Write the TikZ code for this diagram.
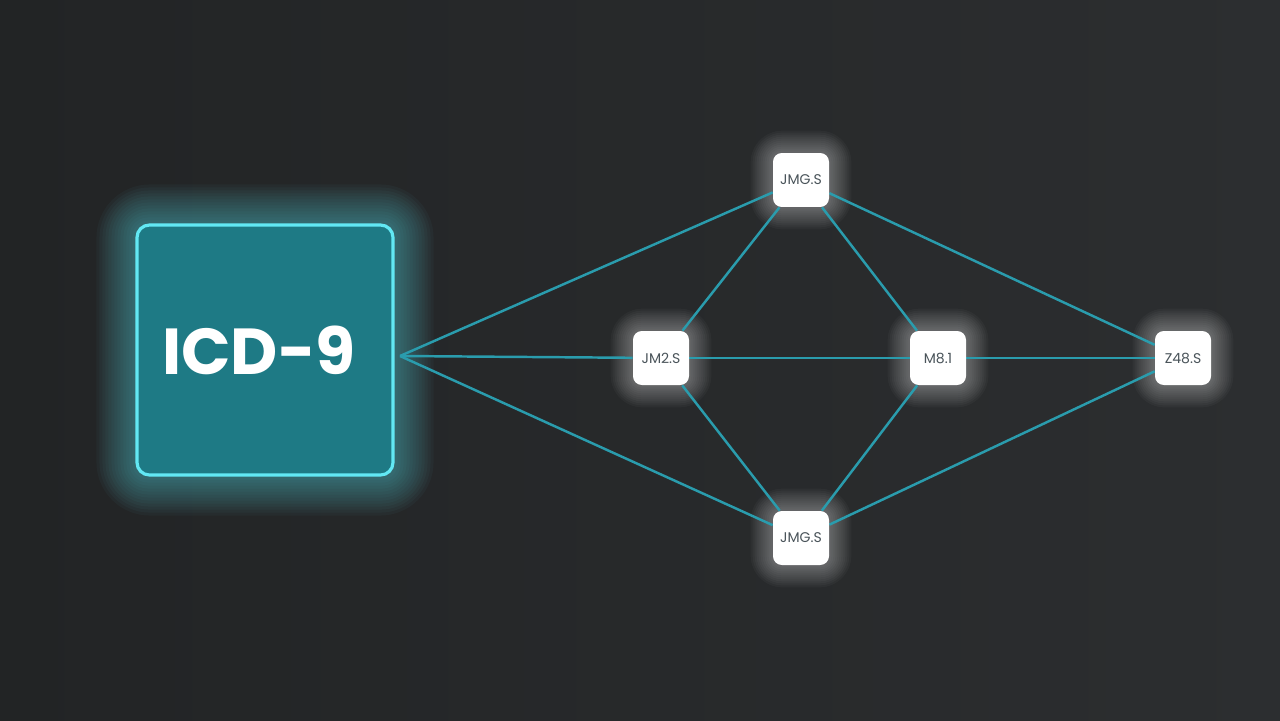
\documentclass[tikz,border=0pt]{standalone}
\usepackage{fontspec}
\setmainfont{Poppins}
\usetikzlibrary{positioning,backgrounds}

\definecolor{bgdark}{HTML}{222425}
\definecolor{bglight}{HTML}{2C2E30}
\definecolor{icdfill}{HTML}{1E7A85}
\definecolor{icdedge}{HTML}{62E8F4}
\definecolor{linkcol}{HTML}{2A9CAD}
\definecolor{labelgray}{HTML}{4A545A}

\tikzset{
  mapnode/.style={fill=white, rounded corners=5pt, minimum width=1.12cm, minimum height=1.08cm,
    inner sep=0pt, text=labelgray, font=\fontsize{8}{9}\selectfont},
  maplink/.style={linkcol, line width=1.4pt},
}

\begin{document}
\begin{tikzpicture}[x=0.02cm,y=-0.02cm]
\useasboundingbox (0,0) rectangle (1280,720);
% code box
\node[fill=icdfill, draw=icdedge, line width=1.8pt, rounded corners=7pt,
  minimum width=5.12cm, minimum height=5cm] (icd) at (265,350) {};
\node[text=white, font=\fontsize{37}{41}\selectfont\bfseries] (icdtext) at (259,350) {ICD-9};
\coordinate (apex) at (400,356);
% mapped codes
\node[mapnode] (top) at (801,180) {JMG.S};
\node[mapnode] (left) at (661,358) {JM2.S};
\node[mapnode] (mid) at (938,358) {M8.1};
\node[mapnode] (right) at (1183,358) {Z48.S};
\node[mapnode] (bot) at (801,538) {JMG.S};
\begin{scope}[on background layer]
\shade[left color=bgdark, right color=bglight] (0,0) rectangle (1280,720);
\foreach \r in {3,6,...,39}
  \fill[icdedge, opacity=0.035, rounded corners=7pt+\r*0.6pt]
    ([shift={(-\r,\r)}]icd.south west) rectangle ([shift={(\r,-\r)}]icd.north east);
\foreach \n in {top,left,mid,right,bot}
  \foreach \r in {2,4,...,22}
    \fill[white, opacity=0.03, rounded corners=5pt+\r*0.6pt]
      ([shift={(-\r,\r)}]\n.south west) rectangle ([shift={(\r,-\r)}]\n.north east);
\draw[maplink] (apex) -- (top);
\draw[maplink] (apex) -- (left);
\draw[maplink] (apex) -- (bot);
\draw[maplink] (left) -- (mid);
\draw[maplink] (mid) -- (right);
\draw[maplink] (top) -- (left);
\draw[maplink] (top) -- (mid);
\draw[maplink] (top) -- (right);
\draw[maplink] (bot) -- (left);
\draw[maplink] (bot) -- (mid);
\draw[maplink] (bot) -- (right);
\end{scope}
\end{tikzpicture}
\end{document}
